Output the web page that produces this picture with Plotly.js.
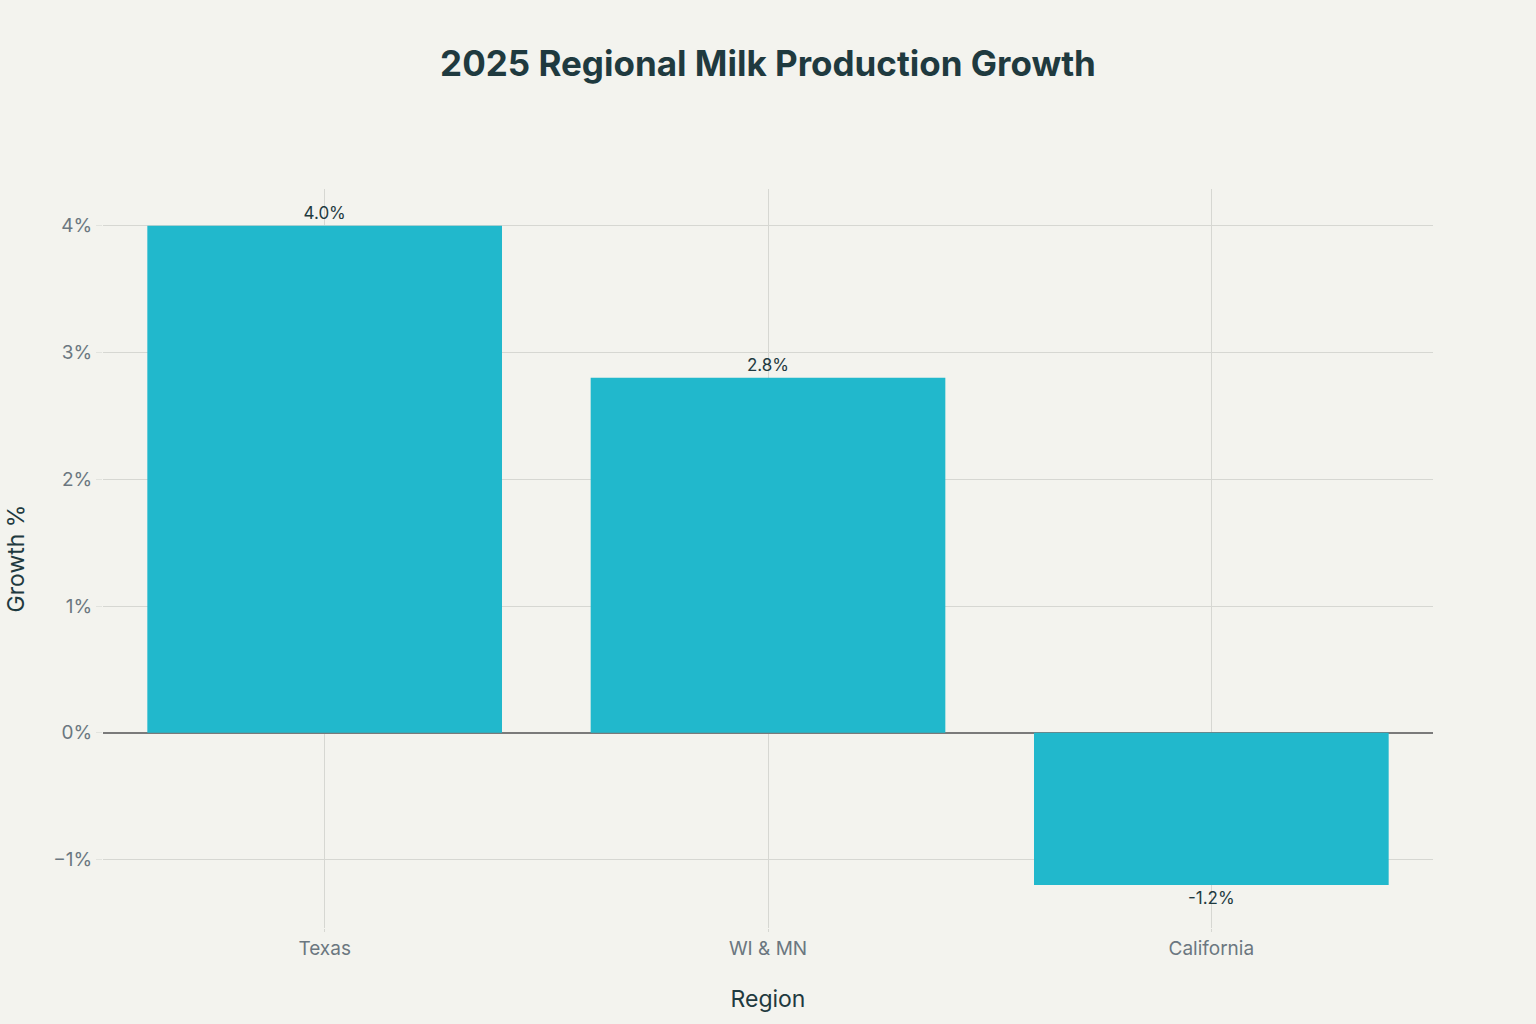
<!DOCTYPE html>
<html>
<head>
<meta charset="utf-8">
<script src="https://cdn.plot.ly/plotly-3.0.1.min.js"></script>
<style>
  html, body { margin: 0; padding: 0; background: #f3f3ee; }
  #chart { width: 1536px; height: 1024px; }
</style>
</head>
<body>
<div id="chart"></div>
<script>
// Regional milk production growth, 2025 (percent change)
const regions = ['Texas', 'WI & MN', 'California'];
const growthPct = [4.0, 2.8, -1.2];
const yTickValues = [-1, 0, 1, 2, 3, 4];
const yTickLabels = ['\u22121%', '0%', '1%', '2%', '3%', '4%'];

const labels = growthPct.map(v => v.toFixed(1) + '%');

const trace = {
  type: 'bar',
  x: regions,
  y: growthPct,
  text: labels,
  textposition: 'outside',
  cliponaxis: false,
  textfont: { family: 'Inter, "Open Sans", sans-serif', size: 17, color: '#1f3a3f' },
  marker: { color: '#21b8cc', line: { width: 0 } },
  hoverinfo: 'skip'
};

const layout = {
  width: 1536,
  height: 1024,
  paper_bgcolor: '#f3f3ee',
  plot_bgcolor: '#f3f3ee',
  margin: { l: 103, r: 103, t: 189, b: 96 },
  bargap: 0.2,
  showlegend: false,
  font: { family: 'Inter, "Open Sans", sans-serif', color: '#6b7780' },
  title: {
    text: '<b>2025 Regional Milk Production Growth</b>',
    font: { family: 'Inter, "Open Sans", sans-serif', size: 35, color: '#1f3a3f' },
    x: 0.5,
    xanchor: 'center',
    y: 0.938,
    yanchor: 'middle'
  },
  xaxis: {
    type: 'category',
    range: [-0.5, 2.5],
    showgrid: true,
    gridcolor: '#d6d7d2',
    gridwidth: 1,
    ticks: 'outside',
    ticklen: 3,
    tickcolor: '#d6d7d2',
    showline: false,
    zeroline: false,
    tickfont: { size: 19, color: '#6b7780' },
    title: {
      text: 'Region',
      font: { size: 23, color: '#1f3a3f' },
      standoff: 32
    }
  },
  yaxis: {
    range: [-1.54, 4.29],
    tickvals: yTickValues,
    ticktext: yTickLabels,
    showgrid: true,
    gridcolor: '#d6d7d2',
    gridwidth: 1,
    ticks: 'outside',
    ticklen: 6,
    tickcolor: '#e2e3de',
    showline: false,
    zeroline: true,
    zerolinecolor: '#7a7a7a',
    zerolinewidth: 1.5,
    tickfont: { size: 19, color: '#6b7780' },
    title: {
      text: 'Growth %',
      font: { size: 23, color: '#1f3a3f' },
      standoff: 22
    }
  }
};

Plotly.newPlot('chart', [trace], layout, { displayModeBar: false, staticPlot: true });
</script>
</body>
</html>
